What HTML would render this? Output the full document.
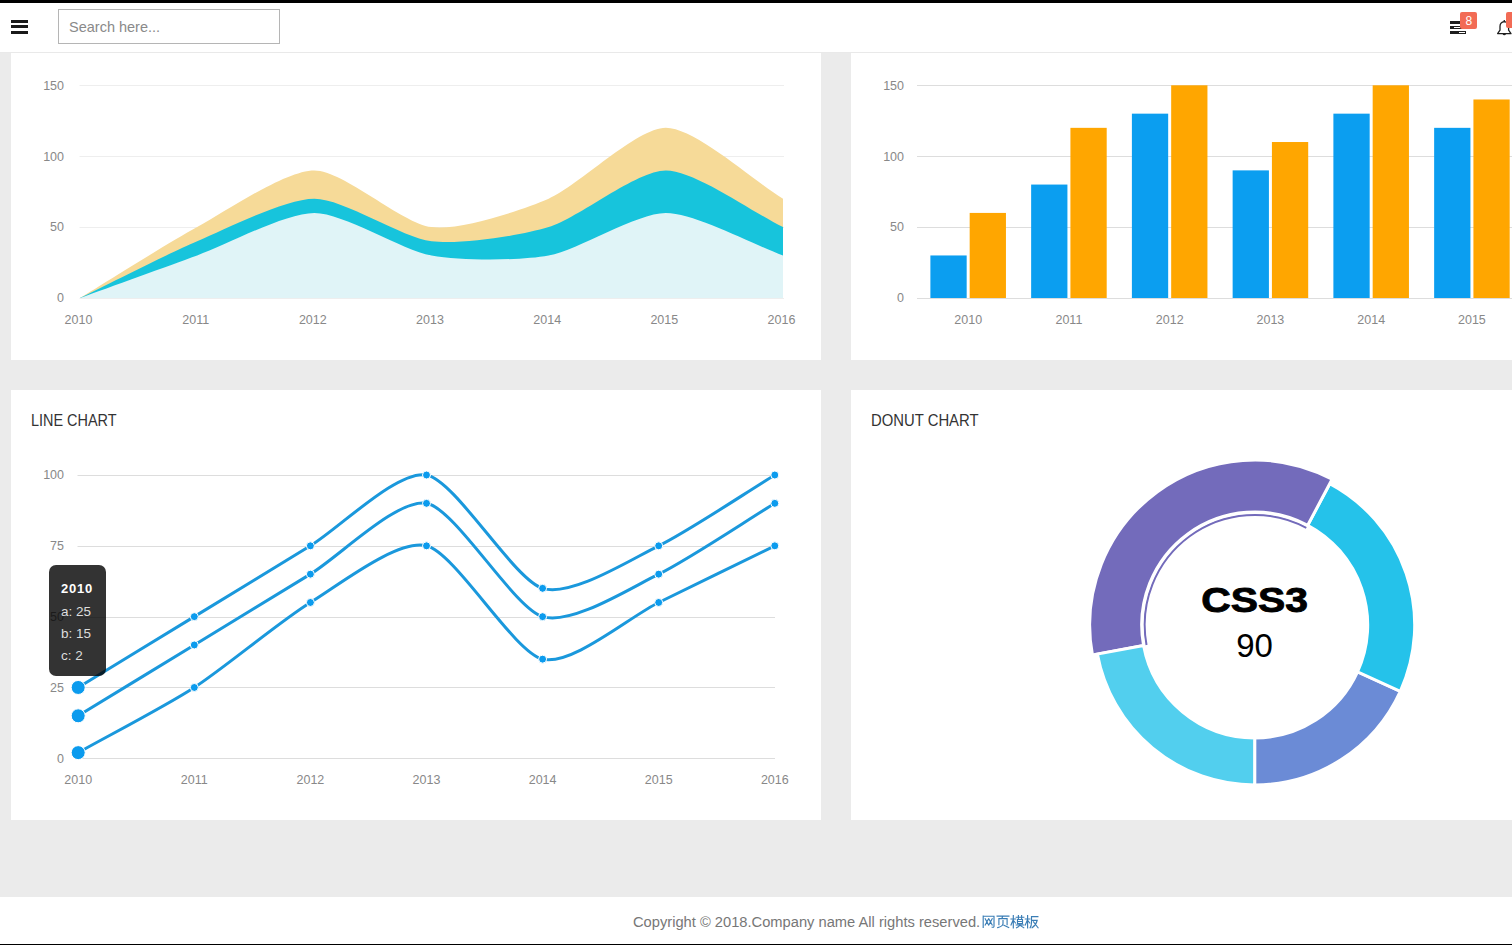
<!DOCTYPE html>
<html><head><meta charset="utf-8"><style>
*{margin:0;padding:0;box-sizing:border-box}
html,body{width:1512px;height:945px;overflow:hidden;background:#ebebeb;font-family:"Liberation Sans", sans-serif}
.abs{position:absolute}
#topbar{left:0;top:0;width:1512px;height:3px;background:#000}
#header{left:0;top:3px;width:1512px;height:50px;background:#fff;border-bottom:1px solid #e9e9e9;z-index:2}
.card{position:absolute;background:#fff}
#footer{left:0;top:897px;width:1512px;height:47px;background:#fff}
#botbar{left:0;top:944px;width:1512px;height:1px;background:#000}
svg text{font-family:"Liberation Sans", sans-serif;font-size:12.5px;fill:#888}
</style></head><body>
<div id="topbar" class="abs"></div>
<div id="header" class="abs">
  <div class="abs" style="left:11px;top:17px;width:17px;height:2.6px;background:#1a1a1a"></div>
  <div class="abs" style="left:11px;top:22.2px;width:17px;height:2.8px;background:#1a1a1a"></div>
  <div class="abs" style="left:11px;top:27.8px;width:17px;height:3.2px;background:#1a1a1a"></div>
  <div class="abs" style="left:58px;top:6px;width:222px;height:35px;border:1px solid #b5b5b5;background:#fff"></div>
  <div class="abs" style="left:69px;top:16px;font-size:14.5px;color:#8a8a8a;line-height:17px">Search here...</div>
  <div class="abs" style="left:1449.5px;top:18.2px;width:11px;height:3.3px;background:#1e1e1e"></div>
  <div class="abs" style="left:1449.5px;top:23.2px;width:16.5px;height:2.6px;background:#1e1e1e"></div>
  <div class="abs" style="left:1454px;top:24px;width:6px;height:1px;background:#fff"></div>
  <div class="abs" style="left:1449.5px;top:28px;width:16.5px;height:2.8px;background:#1e1e1e"></div>
  <div class="abs" style="left:1459px;top:29px;width:6px;height:1px;background:#fff"></div>
  <div class="abs" style="left:1460.2px;top:9.1px;width:16.5px;height:16.7px;background:#f26b55;border-radius:2px;color:#fff;font-size:12px;line-height:19px;text-align:center;padding-left:1px">8</div>
  <svg class="abs" style="left:1490px;top:12px" width="22" height="30" viewBox="1490 15 22 30">
    <path d="M1497.6,33.6 L1500,30.2 V26.2 Q1500,22.2 1504.3,21.6 Q1508.6,22.2 1508.6,26.2 V30.2 L1511,33.6 Z" fill="none" stroke="#1e1e1e" stroke-width="1.3" stroke-linejoin="round"/>
    <path d="M1504.3,20 V21.8" stroke="#1e1e1e" stroke-width="1.3"/>
    <path d="M1502.6,34 A1.8,1.8 0 0 0 1506,34 Z" fill="#1e1e1e"/>
  </svg>
  <div class="abs" style="left:1506.2px;top:9.1px;width:10px;height:16.2px;background:#f26b55;border-radius:2px"></div>
</div>
<div class="card" style="left:11px;top:52px;width:810px;height:308px"></div>
<div class="card" style="left:851px;top:52px;width:810px;height:308px"></div>
<div class="card" style="left:11px;top:390px;width:810px;height:430px">
  <div class="abs" style="left:20px;top:21px;font-size:16.5px;color:#333;line-height:18px;transform:scaleX(0.875);transform-origin:0 0;white-space:nowrap">LINE CHART</div>
</div>
<div class="card" style="left:851px;top:390px;width:810px;height:430px">
  <div class="abs" style="left:20px;top:21px;font-size:16.5px;color:#333;line-height:18px;transform:scaleX(0.9);transform-origin:0 0;white-space:nowrap">DONUT CHART</div>
</div>
<svg class="abs" style="left:0;top:0" width="1512" height="945" viewBox="0 0 1512 945">
<line x1="79.5" y1="298.5" x2="784" y2="298.5" stroke="#eee" stroke-width="1"/>
<text x="64" y="302.3" text-anchor="end">0</text>
<line x1="79.5" y1="227.5" x2="784" y2="227.5" stroke="#eee" stroke-width="1"/>
<text x="64" y="231.4" text-anchor="end">50</text>
<line x1="79.5" y1="156.5" x2="784" y2="156.5" stroke="#eee" stroke-width="1"/>
<text x="64" y="160.5" text-anchor="end">100</text>
<line x1="79.5" y1="85.5" x2="784" y2="85.5" stroke="#eee" stroke-width="1"/>
<text x="64" y="89.6" text-anchor="end">150</text>
<text x="78.5" y="323.5" text-anchor="middle">2010</text>
<text x="195.7" y="323.5" text-anchor="middle">2011</text>
<text x="312.8" y="323.5" text-anchor="middle">2012</text>
<text x="430.0" y="323.5" text-anchor="middle">2013</text>
<text x="547.2" y="323.5" text-anchor="middle">2014</text>
<text x="664.3" y="323.5" text-anchor="middle">2015</text>
<text x="781.5" y="323.5" text-anchor="middle">2016</text>
<path d="M80.00,298.00C109.29,280.27,167.88,243.05,197.17,227.10C226.46,211.15,285.04,170.38,314.33,170.38C343.62,170.38,402.21,223.56,431.50,227.10C460.79,230.65,519.38,211.15,548.67,198.74C577.96,186.33,636.54,127.84,665.83,127.84C695.12,127.84,753.71,181.02,783.00,198.74L783.00,298.0L80.00,298.0Z" fill="#f6da98"/>
<path d="M80.00,298.00C109.29,283.82,167.88,253.69,197.17,241.28C226.46,228.87,285.04,198.74,314.33,198.74C343.62,198.74,402.21,237.74,431.50,241.28C460.79,244.83,519.38,235.96,548.67,227.10C577.96,218.24,636.54,170.38,665.83,170.38C695.12,170.38,753.71,212.92,783.00,227.10L783.00,298.0L80.00,298.0Z" fill="#17c4dc"/>
<path d="M80.00,298.00C109.29,287.37,167.88,266.10,197.17,255.46C226.46,244.83,285.04,212.92,314.33,212.92C343.62,212.92,402.21,250.14,431.50,255.46C460.79,260.78,519.38,260.78,548.67,255.46C577.96,250.14,636.54,212.92,665.83,212.92C695.12,212.92,753.71,244.83,783.00,255.46L783.00,298.0L80.00,298.0Z" fill="#e0f4f7"/>
<line x1="917" y1="298.5" x2="1640" y2="298.5" stroke="#ddd" stroke-width="1"/>
<text x="904" y="302.3" text-anchor="end">0</text>
<line x1="917" y1="227.5" x2="1640" y2="227.5" stroke="#ddd" stroke-width="1"/>
<text x="904" y="231.4" text-anchor="end">50</text>
<line x1="917" y1="156.5" x2="1640" y2="156.5" stroke="#ddd" stroke-width="1"/>
<text x="904" y="160.5" text-anchor="end">100</text>
<line x1="917" y1="85.5" x2="1640" y2="85.5" stroke="#ddd" stroke-width="1"/>
<text x="904" y="89.6" text-anchor="end">150</text>
<rect x="930.39" y="255.46" width="36.28" height="42.54" fill="#0b9ef0"/>
<rect x="969.67" y="212.92" width="36.28" height="85.08" fill="#ffa600"/>
<text x="968.2" y="323.5" text-anchor="middle">2010</text>
<rect x="1031.14" y="184.56" width="36.28" height="113.44" fill="#0b9ef0"/>
<rect x="1070.42" y="127.84" width="36.28" height="170.16" fill="#ffa600"/>
<text x="1068.9" y="323.5" text-anchor="middle">2011</text>
<rect x="1131.89" y="113.66" width="36.28" height="184.34" fill="#0b9ef0"/>
<rect x="1171.17" y="85.30" width="36.28" height="212.70" fill="#ffa600"/>
<text x="1169.7" y="323.5" text-anchor="middle">2012</text>
<rect x="1232.64" y="170.38" width="36.28" height="127.62" fill="#0b9ef0"/>
<rect x="1271.92" y="142.02" width="36.28" height="155.98" fill="#ffa600"/>
<text x="1270.4" y="323.5" text-anchor="middle">2013</text>
<rect x="1333.39" y="113.66" width="36.28" height="184.34" fill="#0b9ef0"/>
<rect x="1372.67" y="85.30" width="36.28" height="212.70" fill="#ffa600"/>
<text x="1371.2" y="323.5" text-anchor="middle">2014</text>
<rect x="1434.14" y="127.84" width="36.28" height="170.16" fill="#0b9ef0"/>
<rect x="1473.42" y="99.48" width="36.28" height="198.52" fill="#ffa600"/>
<text x="1471.9" y="323.5" text-anchor="middle">2015</text>
<rect x="1534.89" y="170.38" width="36.28" height="127.62" fill="#0b9ef0"/>
<rect x="1574.17" y="156.20" width="36.28" height="141.80" fill="#ffa600"/>
<text x="1572.7" y="323.5" text-anchor="middle">2016</text>
<line x1="77.5" y1="758.5" x2="775" y2="758.5" stroke="#ddd" stroke-width="1"/>
<text x="64" y="762.6" text-anchor="end">0</text>
<line x1="77.5" y1="687.5" x2="775" y2="687.5" stroke="#ddd" stroke-width="1"/>
<text x="64" y="691.8" text-anchor="end">25</text>
<line x1="77.5" y1="617.5" x2="775" y2="617.5" stroke="#ddd" stroke-width="1"/>
<text x="64" y="620.9" text-anchor="end">50</text>
<line x1="77.5" y1="546.5" x2="775" y2="546.5" stroke="#ddd" stroke-width="1"/>
<text x="64" y="550.1" text-anchor="end">75</text>
<line x1="77.5" y1="475.5" x2="775" y2="475.5" stroke="#ddd" stroke-width="1"/>
<text x="64" y="479.3" text-anchor="end">100</text>
<text x="78.2" y="783.5" text-anchor="middle">2010</text>
<text x="194.3" y="783.5" text-anchor="middle">2011</text>
<text x="310.4" y="783.5" text-anchor="middle">2012</text>
<text x="426.5" y="783.5" text-anchor="middle">2013</text>
<text x="542.6" y="783.5" text-anchor="middle">2014</text>
<text x="658.7" y="783.5" text-anchor="middle">2015</text>
<text x="774.8" y="783.5" text-anchor="middle">2016</text>
<path d="M78.20,687.47C107.23,669.77,165.28,634.36,194.30,616.65C223.32,598.94,281.38,563.53,310.40,545.82C339.42,528.12,397.47,469.69,426.50,475.00C455.52,480.31,513.58,579.47,542.60,588.32C571.62,597.17,629.68,559.99,658.70,545.82C687.73,531.66,745.77,492.71,774.80,475.00" fill="none" stroke="#1a98dc" stroke-width="3"/>
<path d="M78.20,715.80C107.23,698.10,165.28,662.69,194.30,644.98C223.32,627.27,281.38,591.86,310.40,574.15C339.42,556.45,397.47,498.02,426.50,503.33C455.52,508.64,513.58,607.80,542.60,616.65C571.62,625.50,629.68,588.32,658.70,574.15C687.73,559.99,745.77,521.04,774.80,503.33" fill="none" stroke="#1a98dc" stroke-width="3"/>
<path d="M78.20,752.63C107.23,736.34,165.28,706.24,194.30,687.47C223.32,668.71,281.38,620.19,310.40,602.48C339.42,584.78,397.47,538.74,426.50,545.82C455.52,552.91,513.58,652.06,542.60,659.14C571.62,666.23,629.68,616.65,658.70,602.48C687.73,588.32,745.77,559.99,774.80,545.82" fill="none" stroke="#1a98dc" stroke-width="3"/>
<circle cx="78.20" cy="687.47" r="7" fill="#0b9bee" stroke="#fff" stroke-width="1"/>
<circle cx="194.30" cy="616.65" r="4" fill="#0b9bee" stroke="#fff" stroke-width="1"/>
<circle cx="310.40" cy="545.82" r="4" fill="#0b9bee" stroke="#fff" stroke-width="1"/>
<circle cx="426.50" cy="475.00" r="4" fill="#0b9bee" stroke="#fff" stroke-width="1"/>
<circle cx="542.60" cy="588.32" r="4" fill="#0b9bee" stroke="#fff" stroke-width="1"/>
<circle cx="658.70" cy="545.82" r="4" fill="#0b9bee" stroke="#fff" stroke-width="1"/>
<circle cx="774.80" cy="475.00" r="4" fill="#0b9bee" stroke="#fff" stroke-width="1"/>
<circle cx="78.20" cy="715.80" r="7" fill="#0b9bee" stroke="#fff" stroke-width="1"/>
<circle cx="194.30" cy="644.98" r="4" fill="#0b9bee" stroke="#fff" stroke-width="1"/>
<circle cx="310.40" cy="574.15" r="4" fill="#0b9bee" stroke="#fff" stroke-width="1"/>
<circle cx="426.50" cy="503.33" r="4" fill="#0b9bee" stroke="#fff" stroke-width="1"/>
<circle cx="542.60" cy="616.65" r="4" fill="#0b9bee" stroke="#fff" stroke-width="1"/>
<circle cx="658.70" cy="574.15" r="4" fill="#0b9bee" stroke="#fff" stroke-width="1"/>
<circle cx="774.80" cy="503.33" r="4" fill="#0b9bee" stroke="#fff" stroke-width="1"/>
<circle cx="78.20" cy="752.63" r="7" fill="#0b9bee" stroke="#fff" stroke-width="1"/>
<circle cx="194.30" cy="687.47" r="4" fill="#0b9bee" stroke="#fff" stroke-width="1"/>
<circle cx="310.40" cy="602.48" r="4" fill="#0b9bee" stroke="#fff" stroke-width="1"/>
<circle cx="426.50" cy="545.82" r="4" fill="#0b9bee" stroke="#fff" stroke-width="1"/>
<circle cx="542.60" cy="659.14" r="4" fill="#0b9bee" stroke="#fff" stroke-width="1"/>
<circle cx="658.70" cy="602.48" r="4" fill="#0b9bee" stroke="#fff" stroke-width="1"/>
<circle cx="774.80" cy="545.82" r="4" fill="#0b9bee" stroke="#fff" stroke-width="1"/>
<path d="M1254.70,738.00A113.0,113.0,0,0,0,1357.55,671.81L1400.32,691.28A160.0,160.0,0,0,1,1254.70,785.00Z" fill="#6b8bd6" stroke="#fff" stroke-width="3"/>
<path d="M1357.55,671.81A113.0,113.0,0,0,0,1307.71,525.20L1329.75,483.69A160.0,160.0,0,0,1,1400.32,691.28Z" fill="#25c2ea" stroke="#fff" stroke-width="3"/>
<path d="M1306.30,527.85A110.0,110.0,0,0,0,1146.53,645.00" fill="none" stroke="#736bbb" stroke-width="2"/>
<path d="M1307.71,525.20A113.0,113.0,0,0,0,1143.58,645.54L1092.45,654.99A165.0,165.0,0,0,1,1332.10,479.28Z" fill="#736bbb" stroke="#fff" stroke-width="3"/>
<path d="M1143.58,645.54A113.0,113.0,0,0,0,1254.66,738.00L1254.65,785.00A160.0,160.0,0,0,1,1097.37,654.08Z" fill="#52cfee" stroke="#fff" stroke-width="3"/>
<text x="0" y="0" text-anchor="middle" transform="translate(1254.5,612) scale(1.135,1)" style="font-weight:bold;font-size:36px;fill:#000;stroke:#000;stroke-width:0.9px">CSS3</text>
<text x="1254.5" y="656.5" text-anchor="middle" style="font-size:33px;fill:#000">90</text>
</svg>
<div class="abs" style="left:49px;top:565px;width:57px;height:111px;border-radius:7px;background:rgba(0,0,0,0.8)">
  <div class="abs" style="left:12px;top:16px;font-size:13px;font-weight:bold;letter-spacing:0.8px;color:#fff;line-height:15px">2010</div>
  <div class="abs" style="left:12px;top:39px;font-size:13.5px;color:#ddd;line-height:15px">a: 25</div>
  <div class="abs" style="left:12px;top:61px;font-size:13.5px;color:#ddd;line-height:15px">b: 15</div>
  <div class="abs" style="left:12px;top:83px;font-size:13.5px;color:#ddd;line-height:15px">c: 2</div>
</div>
<div id="footer" class="abs">
  <div class="abs" style="left:633px;top:16.7px;font-size:14.7px;color:#777;line-height:17px;white-space:nowrap">Copyright © 2018.Company name All rights reserved.</div>
  <svg class="abs" style="left:982px;top:18px" width="58" height="14" viewBox="0 0 58 14">
   <g fill="none" stroke="#3a7db5" stroke-width="1.15" stroke-linecap="square">
    <path d="M1.2,1 V12.5 M1.2,1.2 H12 V11.3 Q12,12.6 10.2,12.2 M3.2,3.8 L6.6,10 M6.6,3.8 L3.2,10 M6.8,3.8 L10.2,10 M10.2,3.8 L6.8,10"/>
    <g transform="translate(14.3,0)"><path d="M0.8,1.1 H12.6 M6.5,1.2 L5.6,3.3 M2.6,3.6 V9.6 M2.6,3.6 H10.8 V9.6 M6.7,5.5 V8.8 Q6.4,11.4 1.4,12.6 M7.6,10.2 L12.4,12.6"/></g>
    <g transform="translate(28.6,0)"><path d="M0.4,4 H5 M2.7,0.6 V12.8 M2.7,4.6 L0.4,10 M2.9,5.6 L4.9,8 M5.6,2.2 H13.2 M7.8,0.6 V3.4 M11,0.6 V3.4 M6.9,4.5 H11.9 V8.6 H6.9 Z M6.9,6.5 H11.9 M5.6,10 H13.2 M9.4,8.8 Q9.2,11.6 5.9,12.8 M9.6,10.4 L13.2,12.8"/></g>
    <g transform="translate(42.9,0)"><path d="M0.4,4 H5 M2.7,0.6 V12.8 M2.7,4.6 L0.4,10 M2.9,5.6 L4.9,8 M6.6,1.6 H13 M6.6,1.7 V7.6 Q6.6,11 5.2,12.8 M7.2,5.3 H12.3 Q11.2,10 7.2,12.8 M8.6,6.8 L13.2,12.8"/></g>
   </g>
  </svg>
</div>
<div id="botbar" class="abs"></div>
</body></html>
